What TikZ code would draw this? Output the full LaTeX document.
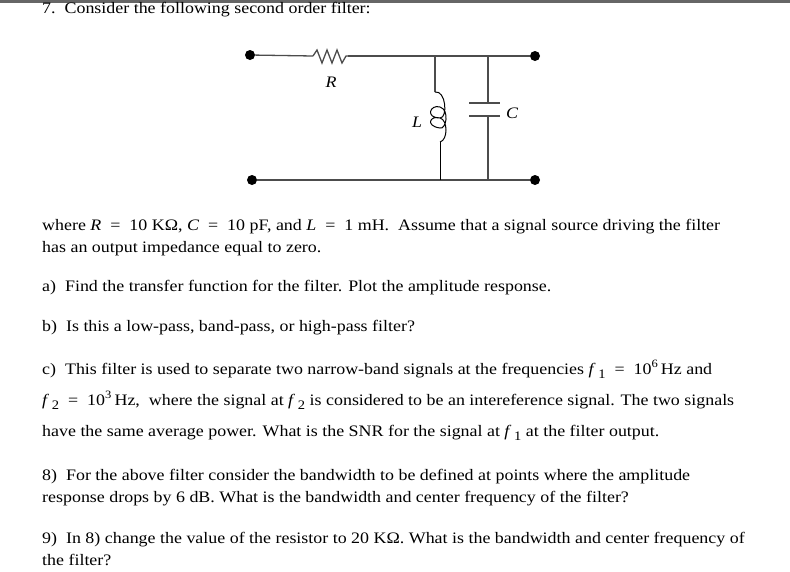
\documentclass[tikz,border=0pt]{standalone}
\usepackage{fontspec}
\setmainfont{Liberation Serif}[FakeStretch=1.12]
\newcommand{\iv}[1]{\textit{#1}}
\newcommand{\fsub}[2]{\textit{#1}\,\raisebox{-0.3em}{\fontsize{13}{13}\selectfont #2}}
\begin{document}
\begin{tikzpicture}[x=1pt,y=-1pt,
  txt/.style={anchor=base west,inner sep=0pt,font=\fontsize{16}{16}\selectfont},
  lab/.style={inner sep=0pt,font=\fontsize{16}{16}\selectfont\itshape},
  wire/.style={draw=black!70,line width=1.3pt},
  dot/.style={circle,fill=black,inner sep=0pt,minimum size=10pt}]
\useasboundingbox (0,0) rectangle (790,571);
\fill[black!60] (0,0) rectangle (790,2.5);
\node[txt] (t0) at (42,13) {7.\ \ Consider the following second order filter:};
% circuit
\node[dot] (a) at (250,55) {};
\node[dot] (b) at (535,56) {};
\node[dot] (c) at (252,180) {};
\node[dot] (d) at (535,180) {};
\coordinate (r1) at (313,56);
\coordinate (r2) at (348,56);
\coordinate (jl) at (435,56);
\coordinate (jc) at (488,56);
\coordinate (bl) at (440,180);
\coordinate (bc) at (488,180);
\draw[wire] (a) -- (r1);
\draw[wire,line join=miter] (r1) -- (317,50) -- (322,63) -- (327,50) -- (332,63) -- (337,50) -- (342,63) -- (346,56) -- (r2);
\draw[wire] (r2) -- (b);
\draw[wire] (c) -- (d);
\draw[wire] (jl) -- (435,92);
\draw[black,line width=1pt] (435,92) .. controls (446,90) and (448,118) .. (440,118)
  .. controls (425,118) and (430,104) .. (440,107)
  .. controls (450,110) and (446,130) .. (440,128)
  .. controls (425,126) and (430,115) .. (440,118)
  .. controls (448,120) and (448,140) .. (440,142);
\draw[black,line width=1pt] (440,142) -- (bl);
\draw[wire] (jc) -- (488,103);
\draw[wire] (469,103) -- (500,103);
\draw[wire] (469,116) -- (500,116);
\draw[wire] (488,116) -- (bc);
\node[lab] (R) at (331,82) {R};
\node[lab] (L) at (417,122) {L};
\node[lab] (C) at (512,113) {C};
% text
\node[txt] (t1) at (42,230) {where \iv{R}\ \ =\ \ 10 KΩ, \iv{C}\ \ =\ \ 10 pF, and \iv{L}\ \ =\ \ 1 mH.\ \ Assume that a signal source driving the filter};
\node[txt] (t2) at (42,252) {has an output impedance equal to zero.};
\node[txt] (t3) at (42,291) {a)\ \ Find the transfer function for the filter. Plot the amplitude response.};
\node[txt] (t4) at (42,331) {b)\ \ Is this a low-pass, band-pass, or high-pass filter?};
\node[txt] (t5) at (42,374) {c)\ \ This filter is used to separate two narrow-band signals at the frequencies \fsub{f}{1}\ \ =\ \ 10\textsuperscript{6}\,Hz and};
\node[txt] (t6) at (42,405) {\fsub{f}{2}\ \ =\ \ 10\textsuperscript{3}\,Hz,\ \ where the signal at \fsub{f}{2} is considered to be an intereference signal. The two signals};
\node[txt] (t7) at (42,436) {have the same average power. What is the SNR for the signal at \fsub{f}{1} at the filter output.};
\node[txt] (t8) at (42,480) {8)\ \ For the above filter consider the bandwidth to be defined at points where the amplitude};
\node[txt] (t9) at (42,502) {response drops by 6 dB. What is the bandwidth and center frequency of the filter?};
\node[txt] (t10) at (42,543) {9)\ \ In 8) change the value of the resistor to 20 KΩ. What is the bandwidth and center frequency of};
\node[txt] (t11) at (42,565) {the filter?};
\end{tikzpicture}
\end{document}
